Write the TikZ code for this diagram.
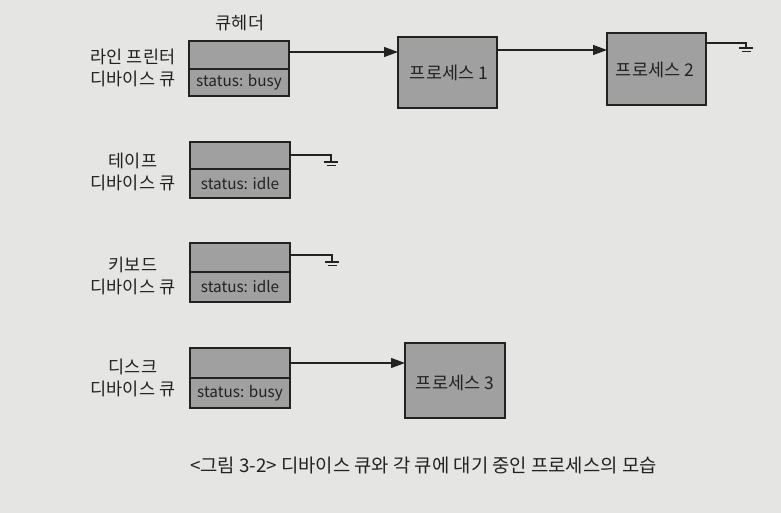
\documentclass[tikz,border=0pt]{standalone}
\usepackage{fontspec}
\setmainfont{Noto Sans CJK KR}
\usetikzlibrary{arrows.meta,calc}
\definecolor{paper}{HTML}{E5E5E3}
\definecolor{boxfill}{HTML}{A0A0A0}
\definecolor{ink}{HTML}{222222}
\begin{document}
\begin{tikzpicture}[x=1pt,y=-1pt,
  every node/.style={inner sep=0pt,outer sep=0pt,text=ink},
  qpart/.style={draw=ink,fill=boxfill,line width=1.1pt,minimum width=100pt,anchor=north west},
  proc/.style={draw=ink,fill=boxfill,line width=1.1pt,minimum width=99pt,anchor=north west},
  ptxt/.style={font=\fontsize{17.5}{17.5}\selectfont},
  lbl/.style={align=center,font=\fontsize{17.5}{21.5}\selectfont},
  stat/.style={font=\fontsize{15.3}{15.3}\selectfont},
  conn/.style={draw=ink,line width=1.1pt},
  arr/.style={conn,-{Triangle[length=14pt,width=10pt]}}
]
\useasboundingbox (0,0) rectangle (781,513);
\fill[paper] (0,0) rectangle (781,513);

% header
\node[ptxt] (hdr) at (240,23) {큐헤더};

% queue boxes
\node[qpart,minimum height=28pt] (q1t) at (189,41) {};
\node[qpart,minimum height=27pt] (q1b) at (189,69) {};
\node[stat] (s1) at (q1b.center) {status: busy};

\node[qpart,minimum height=27pt] (q2t) at (190,142) {};
\node[qpart,minimum height=29pt] (q2b) at (190,169) {};
\node[stat] (s2) at (q2b.center) {status: idle};

\node[qpart,minimum height=29pt] (q3t) at (190,243) {};
\node[qpart,minimum height=30pt] (q3b) at (190,272) {};
\node[stat] (s3) at (q3b.center) {status: idle};

\node[qpart,minimum height=30pt] (q4t) at (190,348) {};
\node[qpart,minimum height=30pt] (q4b) at (190,378) {};
\node[stat] (s4) at (q4b.center) {status: busy};

% labels
\node[lbl] (l1) at (133,68) {라인 프린터\\디바이스 큐};
\node[lbl] (l2) at (133,172) {테이프\\디바이스 큐};
\node[lbl] (l3) at (133,276) {키보드\\디바이스 큐};
\node[lbl] (l4) at (133,378) {디스크\\디바이스 큐};

% processes
\node[proc,minimum height=71pt] (p1) at (398,37) {};
\node[ptxt] (t1) at (449,73) {프로세스 1};
\node[proc,minimum height=72pt] (p2) at (607,33) {};
\node[ptxt] (t2) at (655,70) {프로세스 2};
\node[proc,minimum height=75pt,minimum width=100pt] (p3) at (405,343) {};
\node[ptxt] (t3) at (455,383) {프로세스 3};

% arrow start points
\coordinate (a1) at ($(q1t.north east)+(0,11)$);
\coordinate (a2) at ($(p1.north east)+(0,13)$);
\coordinate (a3) at ($(q4t.north east)+(0,15)$);
\draw[arr] (a1) -- (a1 -| p1.west);
\draw[arr] (a2) -- (a2 -| p2.west);
\draw[arr] (a3) -- (a3 -| p3.west);

% grounds
\coordinate (b1) at ($(p2.north east)+(0,10)$);
\draw[conn] (b1) -- ++(40,0) -- ++(0,5) coordinate (g1);
\draw[conn] ($(g1)+(-7,0)$) -- ++(14,0);
\draw[conn] ($(g1)+(-4.5,3.5)$) -- ++(9,0);

\coordinate (b2) at ($(q2t.north east)+(0,13)$);
\draw[conn] (b2) -- ++(41,0) -- ++(0,7) coordinate (g2);
\draw[conn] ($(g2)+(-7,0)$) -- ++(14,0);
\draw[conn] ($(g2)+(-4.5,3.5)$) -- ++(9,0);

\coordinate (b3) at ($(q3t.north east)+(0,12)$);
\draw[conn] (b3) -- ++(42,0) -- ++(0,7) coordinate (g3);
\draw[conn] ($(g3)+(-7,0)$) -- ++(14,0);
\draw[conn] ($(g3)+(-4.5,3.5)$) -- ++(9,0);

% caption
\node[font=\fontsize{18.8}{18.8}\selectfont,anchor=west] (cap) at (190,465) {<그림 3-2> 디바이스 큐와 각 큐에 대기 중인 프로세스의 모습};
\end{tikzpicture}
\end{document}
